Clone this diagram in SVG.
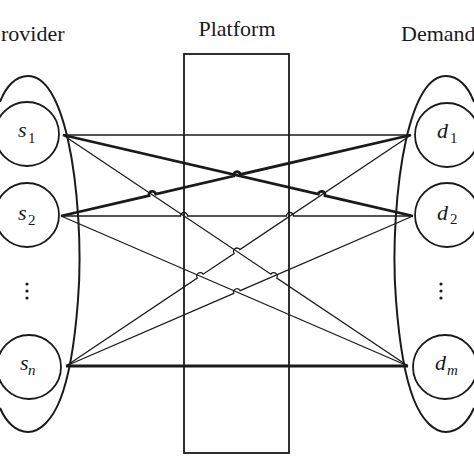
<svg xmlns="http://www.w3.org/2000/svg" width="474" height="474" viewBox="0 0 474 474">
<style>
.bg{fill:#ffffff}
.shape{fill:none;stroke:#1a1a1a;stroke-width:1.8}
.outer{fill:none;stroke:#1a1a1a;stroke-width:2}
.thin{fill:none;stroke:#1a1a1a;stroke-width:1.3}
.thick{fill:none;stroke:#1a1a1a;stroke-width:2.8}
.title{font-family:"Liberation Serif",serif;font-size:22px;fill:#1a1a1a}
.var{font-family:"Liberation Serif",serif;font-style:italic;font-size:22px;fill:#1a1a1a}
.sub{font-family:"Liberation Serif",serif;font-size:15px;fill:#1a1a1a}
.subi{font-family:"Liberation Serif",serif;font-style:italic;font-size:15px;fill:#1a1a1a}
.dot{fill:#1a1a1a}
</style>
<defs>
<path id="loop" d="M0,102 C6,86 16,76 28,76 C48,76 60,105 68,140 C78,185 82,250 78,300 C75,340 70,375 60,400 C52,420 40,432 28,432 C16,432 6,422 0,408"/>
</defs>
<rect class="bg" x="0" y="0" width="474" height="474"/>

<g id="platform">
<rect class="shape" x="184" y="54" width="105" height="399"/>
<text class="title" x="237" y="36" text-anchor="middle">Platform</text>
</g>

<g id="connectors">
<path class="thin" d="M63,135 L411,135"/>
<path class="thin" d="M61,216 L180.5,216 A3.5,3.5 0 0 1 187.5,216 L286.5,216 A3.5,3.5 0 0 1 293.5,216 L413,216"/>
<path class="thick" d="M66,366 L408,366"/>
<path class="thick" d="M63,135 L318.2,194.06 A3.5,3.5 0 0 1 325.02,195.64 L413,216"/>
<path class="thick" d="M61,216 L148.98,195.64 A3.5,3.5 0 0 1 155.8,194.06 L233.59,176.06 A3.5,3.5 0 0 1 240.41,174.48 L411,135"/>
<path class="thin" d="M63,135 L270.91,274.21 A3.5,3.5 0 0 1 276.73,278.11 L408,366"/>
<path class="thin" d="M66,366 L197.27,278.11 A3.5,3.5 0 0 1 203.09,274.21 L234.09,253.45 A3.5,3.5 0 0 1 239.91,249.55 L411,135"/>
<path class="thin" d="M61,216 L408,366"/>
<path class="thin" d="M66,366 L233.79,293.47 A3.5,3.5 0 0 1 240.21,290.69 L413,216"/>
</g>

<g id="provider">
<use href="#loop" class="outer"/>
<text class="title" x="1" y="41">rovider</text>
<circle class="dot" cx="27" cy="284" r="1.6"/>
<circle class="dot" cx="27" cy="291" r="1.6"/>
<circle class="dot" cx="27" cy="298" r="1.6"/>
</g>

<g id="s1">
<circle class="shape" cx="27" cy="134" r="32"/>
<text class="var" x="18" y="137">s</text>
<text class="sub" x="28" y="143">1</text>
</g>
<g id="s2">
<circle class="shape" cx="27" cy="215" r="32"/>
<text class="var" x="18" y="220">s</text>
<text class="sub" x="28" y="225">2</text>
</g>
<g id="sn">
<circle class="shape" cx="29" cy="367" r="32"/>
<text class="var" x="20" y="370">s</text>
<text class="subi" x="28" y="375">n</text>
</g>

<g id="demand">
<use href="#loop" class="outer" transform="translate(474,0) scale(-1,1)"/>
<text class="title" x="401" y="41">Demand</text>
<circle class="dot" cx="441" cy="284" r="1.6"/>
<circle class="dot" cx="441" cy="291" r="1.6"/>
<circle class="dot" cx="441" cy="298" r="1.6"/>
</g>

<g id="d1">
<circle class="shape" cx="447" cy="135" r="32"/>
<text class="var" x="437" y="138">d</text>
<text class="sub" x="450" y="143">1</text>
</g>
<g id="d2">
<circle class="shape" cx="447" cy="215" r="32"/>
<text class="var" x="437" y="220">d</text>
<text class="sub" x="450" y="224">2</text>
</g>
<g id="dm">
<circle class="shape" cx="445" cy="367" r="32"/>
<text class="var" x="435" y="370">d</text>
<text class="subi" x="447" y="375">m</text>
</g>
</svg>
